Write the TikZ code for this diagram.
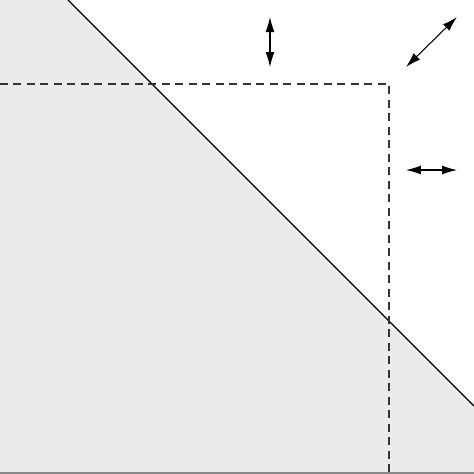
\documentclass[tikz,border=0pt]{standalone}
\usetikzlibrary{arrows.meta}

\definecolor{regiongray}{HTML}{EBEBEB}
\definecolor{edgegray}{HTML}{888888}
\tikzset{
  boundary/.style={line width=0.7pt},
  limit_line/.style={line width=0.6pt,dash pattern=on 1.6mm off 1.1mm,black!80},
  move_arrow/.style={line width=0.6pt,{Latex[length=3mm,width=1.8mm]}-{Latex[length=3mm,width=1.8mm]}}
}
\def\PixelSize {0.02}

\begin{document}
\begin{tikzpicture}[x=\PixelSize cm,y=-\PixelSize cm]
        \useasboundingbox (0,0) rectangle (474,474);
        % shaded region below the boundary
        \fill[regiongray] (0,0) -- (68,0) -- (474,406) -- (474,474) -- (0,474) -- cycle;
        \draw[edgegray,line width=0.8pt] (0,473) -- (474,473);
        \coordinate (b_top) at (68,0);
        \coordinate (b_end) at (474,406);
        \draw[boundary] (b_top) -- (b_end);
        % dashed limits
        \coordinate (l_left) at (0,84);
        \coordinate (l_corner) at (389,84);
        \coordinate (l_bottom) at (389,474);
        \draw[limit_line] (l_left) -- (l_corner) -- (l_bottom);
        % directions of motion
        \coordinate (v_a) at (270,17);
        \coordinate (v_b) at (270,67);
        \coordinate (d_a) at (406,67);
        \coordinate (d_b) at (457,17);
        \coordinate (h_a) at (406,170);
        \coordinate (h_b) at (457,170);
        \foreach \m in {v,d,h} {
            \draw[move_arrow] (\m_a) -- (\m_b);
          }
      \end{tikzpicture}
\end{document}
